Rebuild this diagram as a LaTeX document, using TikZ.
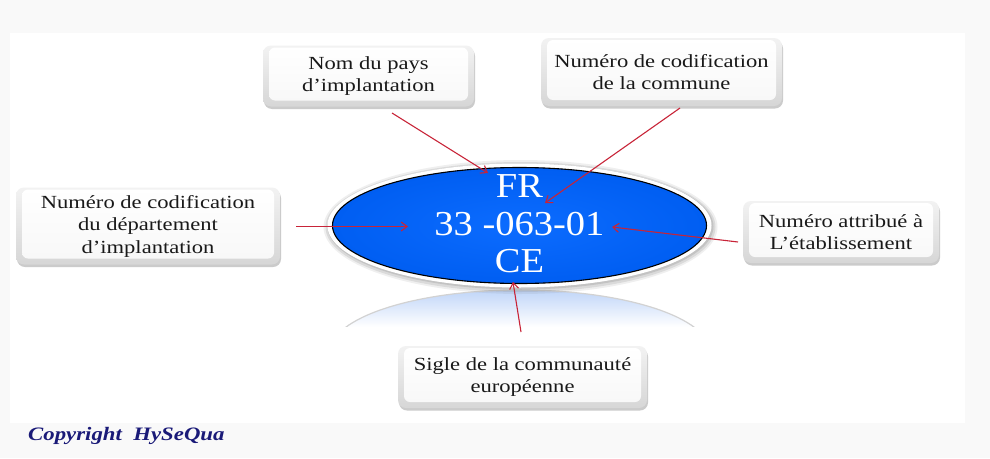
\documentclass[tikz,border=0pt]{standalone}
\usepackage{fontspec}
\setmainfont{Liberation Serif}
\newfontfamily\boxfont[FakeStretch=1.22]{Liberation Serif}
\newfontfamily\codefont[FakeStretch=1.1]{Liberation Serif}
\newfontfamily\copyfont[FakeStretch=1.2]{Liberation Serif}
\usetikzlibrary{shapes.geometric,arrows.meta,shadows}
\definecolor{bg}{RGB}{249,249,249}
\definecolor{ovalin}{RGB}{12,108,255}
\definecolor{ovalout}{RGB}{0,94,242}
\definecolor{arrowred}{RGB}{200,36,56}
\definecolor{navy}{RGB}{26,26,120}
\definecolor{reflblue}{RGB}{190,212,248}
\begin{document}
\begin{tikzpicture}[x=1pt,y=-1pt,
  infobox/.style={rounded corners=8pt, draw=none,
    top color=gray!10, bottom color=gray!32,
    drop shadow={shadow xshift=1pt,shadow yshift=-2.5pt,fill=gray!80,opacity=0.5},
    path picture={
      \shade[rounded corners=6pt, top color=white, bottom color=gray!6]
        ([xshift=6pt,yshift=-2pt]path picture bounding box.north west) rectangle
        ([xshift=-6pt,yshift=6pt]path picture bounding box.south east);
    },
    align=center, font=\boxfont\fontsize{18.5}{22.5}\selectfont, text=black!90, inner sep=0pt},
  link/.style={draw=arrowred, line width=1.1pt, -{Straight Barb[length=6pt,width=9pt]}},
]
\useasboundingbox (0,0) rectangle (990,458);
\fill[bg] (0,0) rectangle (990,458);
\fill[white] (10,33) rectangle (965,423);

% reflection under the oval
\begin{scope}
  \clip (520,352) ellipse [x radius=190, y radius=62];
  \shade[top color=reflblue, bottom color=white] (325,289) rectangle (715,327);
\end{scope}
\begin{scope}
  \clip (325,287) rectangle (715,326);
  \draw[gray!35, line width=1.2pt] (520,352) ellipse [x radius=190, y radius=62];
\end{scope}

% oval
\fill[gray, opacity=0.12] (520.5,227) ellipse [x radius=197, y radius=67];
\fill[gray, opacity=0.18] (520.5,227) ellipse [x radius=195, y radius=65];
\fill[gray, opacity=0.25] (520.5,226.5) ellipse [x radius=193, y radius=63];
\node[ellipse, fill=white, minimum width=384pt, minimum height=124pt, inner sep=0pt] (ring) at (519.5,225.5) {};
\node[ellipse, draw=black, line width=1.1pt, inner color=ovalin, outer color=ovalout,
  minimum width=374pt, minimum height=116pt, inner sep=0pt] (oval) at (519.5,225.5) {};
\node[text=white, align=center, font=\codefont\fontsize{35}{37.5}\selectfont, inner sep=0pt] (code) at (519.5,224) {FR\\33 -063-01\\CE};

% boxes
\node[infobox, minimum width=211pt, minimum height=61pt] (pays) at (368.5,76) {Nom du pays\\d’implantation};
\node[infobox, minimum width=241pt, minimum height=68pt] (commune) at (661.5,72) {Numéro de codification\\de la commune};
\node[infobox, minimum width=264pt, minimum height=77pt] (dept) at (148,226) {Numéro de codification\\du département\\d’implantation};
\node[infobox, minimum width=196pt, minimum height=62pt] (etab) at (841,232) {Numéro attribué à\\L’établissement};
\node[infobox, minimum width=249pt, minimum height=62pt] (sigle) at (522.5,377) {Sigle de la communauté\\européenne};

% connectors
\coordinate (s1) at (392,113); \coordinate (t1) at (488,173);
\coordinate (s2) at (680,108); \coordinate (t2) at (545,203);
\coordinate (s3) at (296,226.5); \coordinate (t3) at (408,226.5);
\coordinate (s4) at (738,242); \coordinate (t4) at (612,227);
\coordinate (s5) at (521,332); \coordinate (t5) at (513,282);
\draw[link] (s1) -- (t1);
\draw[link] (s2) -- (t2);
\draw[link] (s3) -- (t3);
\draw[link] (s4) -- (t4);
\draw[link] (s5) -- (t5);

\node[anchor=west, text=navy, font=\copyfont\bfseries\itshape\fontsize{19}{21}\selectfont, inner sep=0pt] (copy) at (28,436) {Copyright\ \ HySeQua};
\end{tikzpicture}
\end{document}
